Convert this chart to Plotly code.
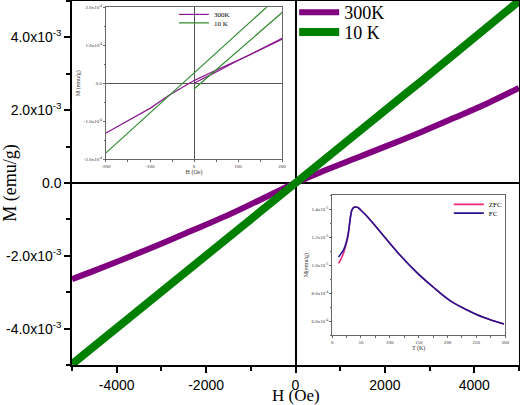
import plotly.graph_objects as go

# main M-H loops (H in Oe, M in emu/g)
h_300k = [-5000, -4526, -3785, -3044, -2304, -1563, -822, -81, 0,
          607, 1348, 2089, 2830, 3570, 4311, 5000]
m_300k = [-2.64e-3, -2.42e-3, -2.06e-3, -1.69e-3, -1.30e-3, -0.91e-3,
          -0.48e-3, -0.04e-3, 0.0, 0.32e-3, 0.68e-3, 1.04e-3, 1.41e-3,
          1.80e-3, 2.20e-3, 2.61e-3]
h_10k = [-5000, -3540, -2500, 0, 2500, 2830, 5000]
m_10k = [-4.98e-3, -3.51e-3, -2.48e-3, 0.0, 2.49e-3, 2.81e-3, 5.0e-3]

# low-field zoom (inset 1)
h_300k_a = [-200, -100, -55, 0, 47, 127, 200]
m_300k_a = [-1.31e-4, -0.66e-4, -0.30e-4, 0.07e-4, 0.33e-4, 0.75e-4, 1.18e-4]
h_300k_b = [0, 20, 47, 100, 200]
m_300k_b = [0.0, 0.11e-4, 0.28e-4, 0.60e-4, 1.16e-4]
h_10k_a = [-200, 0, 166, 200]
m_10k_a = [-1.83e-4, 0.27e-4, 2.0e-4, 2.37e-4]
h_10k_b = [0, 200]
m_10k_b = [-0.15e-4, 1.86e-4]

# ZFC / FC (inset 2), T in K
t_fc = [11, 15, 20, 25, 28, 32, 34, 37, 40, 45, 49, 60, 89, 118, 147, 176,
        205, 234, 262, 298]
m_fc = [1.057e-3, 1.08e-3, 1.11e-3, 1.17e-3, 1.23e-3, 1.35e-3, 1.39e-3,
        1.41e-3, 1.414e-3, 1.41e-3, 1.395e-3, 1.35e-3, 1.21e-3, 1.07e-3,
        0.946e-3, 0.84e-3, 0.745e-3, 0.68e-3, 0.628e-3, 0.58e-3]
t_zfc = [11, 15, 20, 25, 28, 32, 34, 37, 40, 45, 49, 60, 89, 118, 147, 176,
         205, 234, 262, 298]
m_zfc = [1.012e-3, 1.04e-3, 1.09e-3, 1.16e-3, 1.22e-3, 1.35e-3, 1.39e-3,
         1.41e-3, 1.414e-3, 1.41e-3, 1.395e-3, 1.35e-3, 1.21e-3, 1.07e-3,
         0.946e-3, 0.84e-3, 0.745e-3, 0.68e-3, 0.628e-3, 0.58e-3]

main_yticks = [-4e-3, -2e-3, 0, 2e-3, 4e-3]
main_ytext = ["-4.0x10<sup>-3</sup>", "-2.0x10<sup>-3</sup>", "0.0",
              "2.0x10<sup>-3</sup>", "4.0x10<sup>-3</sup>"]
main_xticks = [-4000, -2000, 0, 2000, 4000]
main_xtext = ["-4000", "-2000", "0", "2000", "4000"]
in1_yticks = [-2e-4, -1e-4, 0, 1e-4, 2e-4]
in1_ytext = ["-2.0x10<sup>-4</sup>", "-1.0x10<sup>-4</sup>", "0.0",
             "1.0x10<sup>-4</sup>", "2.0x10<sup>-4</sup>"]
in1_xticks = [-200, -100, 0, 100, 200]
in1_xtext = ["-200", "-100", "0", "100", "200"]
in2_yticks = [6e-4, 8e-4, 1.0e-3, 1.2e-3, 1.4e-3]
in2_ytext = ["6.0x10<sup>-4</sup>", "8.0x10<sup>-4</sup>", "1.0x10<sup>-3</sup>",
             "1.2x10<sup>-3</sup>", "1.4x10<sup>-3</sup>"]
in2_xticks = [0, 50, 100, 150, 200, 250, 300]

SERIF = "Liberation Serif"
SANS = "Liberation Sans"

fig = go.Figure()

# main
fig.add_trace(go.Scatter(x=h_300k, y=m_300k, mode="lines", name="300K",
                         line=dict(color="#800080", width=6, shape="spline"),
                         legend="legend"))
fig.add_trace(go.Scatter(x=h_10k, y=m_10k, mode="lines", name="10 K",
                         line=dict(color="#008000", width=8), legend="legend4"))

# inset 1
fig.add_trace(go.Scatter(x=h_300k_a, y=m_300k_a, mode="lines", name="300K",
                         line=dict(color="#8a1a8f", width=1.2),
                         xaxis="x2", yaxis="y2", legend="legend2"))
fig.add_trace(go.Scatter(x=h_300k_b, y=m_300k_b, mode="lines", showlegend=False,
                         line=dict(color="#8a1a8f", width=1.2),
                         xaxis="x2", yaxis="y2"))
fig.add_trace(go.Scatter(x=h_10k_a, y=m_10k_a, mode="lines", name="10 K",
                         line=dict(color="#2e8b2e", width=1.2),
                         xaxis="x2", yaxis="y2", legend="legend5"))
fig.add_trace(go.Scatter(x=h_10k_b, y=m_10k_b, mode="lines", showlegend=False,
                         line=dict(color="#2e8b2e", width=1.2),
                         xaxis="x2", yaxis="y2"))

# inset 2
fig.add_trace(go.Scatter(x=t_zfc, y=m_zfc, mode="lines", name="ZFC",
                         line=dict(color="#f0287a", width=1.6, shape="spline"),
                         xaxis="x3", yaxis="y3", legend="legend3"))
fig.add_trace(go.Scatter(x=t_fc, y=m_fc, mode="lines", name="FC",
                         line=dict(color="#24148f", width=1.6, shape="spline"),
                         xaxis="x3", yaxis="y3", legend="legend6"))

main_axis = dict(showline=True, linecolor="black", linewidth=1.5, mirror=True,
                 ticks="outside", ticklen=6, tickwidth=1.5, tickcolor="black",
                 showgrid=False, zeroline=True, zerolinecolor="black",
                 zerolinewidth=1.5, automargin=False,
                 tickfont=dict(family=SANS, size=14, color="black"))
inset_axis = dict(showline=True, linecolor="#666666", linewidth=0.8, mirror=True,
                  ticks="outside", ticklen=2, tickwidth=0.6, tickcolor="#666666",
                  showgrid=False, automargin=False,
                  tickfont=dict(family=SERIF, size=5, color="#333333"))


def leg(x, y, size):
    return dict(x=x, y=y, xanchor="left", yanchor="top", bgcolor="rgba(0,0,0,0)",
                font=dict(family=SERIF, size=size, color="black"),
                itemwidth=40 if size > 10 else 30)


fig.update_layout(
    width=520, height=405,
    margin=dict(l=72, r=1, t=1, b=40, autoexpand=False),
    paper_bgcolor="white", plot_bgcolor="white",
    xaxis=dict(main_axis, range=[-5000, 5000], tickvals=main_xticks, ticktext=main_xtext,
               minor=dict(ticks="outside", ticklen=4, tickwidth=1.5, tickcolor="black",
                          tick0=0, dtick=1000)),
    yaxis=dict(main_axis, range=[-5e-3, 5e-3], tickvals=main_yticks, ticktext=main_ytext,
               minor=dict(ticks="outside", ticklen=4, tickwidth=1.5, tickcolor="black",
                          tick0=0, dtick=1e-3),
               title=dict(text="M (emu/g)", font=dict(family=SERIF, size=18, color="black"),
                          standoff=2)),
    xaxis2=dict(inset_axis, domain=[0.076, 0.470], anchor="y2", range=[-200, 200],
                tickvals=in1_xticks, ticktext=in1_xtext,
                zeroline=True, zerolinecolor="#555555", zerolinewidth=0.8,
                minor=dict(ticks="outside", ticklen=1.5, tickcolor="#666666", dtick=50),
                title=dict(text="H (Oe)", font=dict(family=SERIF, size=6, color="#333333"),
                           standoff=1)),
    yaxis2=dict(inset_axis, domain=[0.565, 0.983], anchor="x2", range=[-2e-4, 2e-4],
                tickvals=in1_yticks, ticktext=in1_ytext,
                zeroline=True, zerolinecolor="#555555", zerolinewidth=0.8,
                minor=dict(ticks="outside", ticklen=1.5, tickcolor="#666666", dtick=5e-5),
                title=dict(text="M (emu/g)", font=dict(family=SERIF, size=6, color="#333333"),
                           standoff=2)),
    xaxis3=dict(inset_axis, domain=[0.582, 0.969], anchor="y3", range=[0, 300],
                tickvals=in2_xticks, zeroline=False,
                minor=dict(ticks="outside", ticklen=1.5, tickcolor="#666666", dtick=25),
                title=dict(text="T (K)", font=dict(family=SERIF, size=6, color="#333333"),
                           standoff=1)),
    yaxis3=dict(inset_axis, domain=[0.082, 0.467], anchor="x3", range=[0.5e-3, 1.5e-3],
                tickvals=in2_yticks, ticktext=in2_ytext, zeroline=False,
                minor=dict(ticks="outside", ticklen=1.5, tickcolor="#666666", dtick=1e-4),
                title=dict(text="M(emu/g)", font=dict(family=SERIF, size=6, color="#333333"),
                           standoff=2)),
    legend=leg(0.497, 1.019, 18),
    legend4=leg(0.497, 0.965, 18),
    legend2=leg(0.228, 1.003, 7),
    legend5=leg(0.228, 0.980, 7),
    legend3=leg(0.843, 0.481, 7),
    legend6=leg(0.843, 0.457, 7),
)

# main x title placed as annotation so it can sit lower than the axis title allows
fig.add_annotation(text="H (Oe)", xref="paper", yref="paper", x=0.5, y=-0.1115,
                   xanchor="center", yanchor="bottom", showarrow=False, borderpad=0,
                   font=dict(family=SERIF, size=17, color="black"))

fig.write_html("out.html", config={"displayModeBar": False},
               post_script="document.body.style.margin='0';")
